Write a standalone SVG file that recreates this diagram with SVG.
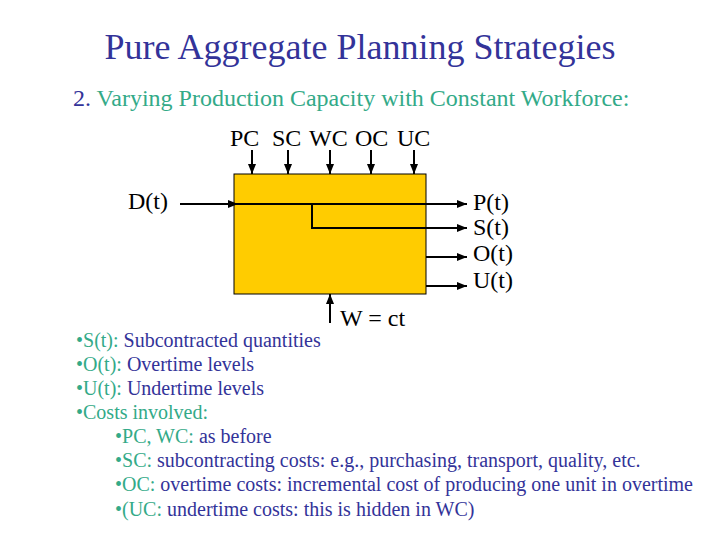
<svg xmlns="http://www.w3.org/2000/svg" width="720" height="540" viewBox="0 0 720 540">
<style>
text{font-family:"Liberation Serif","Times New Roman",serif;}
.t{font-size:36px;fill:#333399;}
.n{fill:#333399;}
.g{fill:#33AA88;}
.lbl{font-size:24px;fill:#000;}
.b{font-size:20px;}
.ln{stroke:#000;stroke-width:2;fill:none;}
</style>
<defs>
<marker id="a" viewBox="0 0 10 10" refX="10" refY="5" markerWidth="5" markerHeight="5" orient="auto">
<path d="M0,1 L10,5 L0,9 Z" fill="#000"/>
</marker>
</defs>
<rect width="720" height="540" fill="#fff"/>
<text class="t" x="360" y="59" text-anchor="middle">Pure Aggregate Planning Strategies</text>
<text x="73" y="106" style="font-size:24px"><tspan class="n">2. </tspan><tspan class="g">Varying Production Capacity with Constant Workforce:</tspan></text>

<g id="process">
<rect x="234" y="174" width="192" height="120" fill="#FFCC00" stroke="#000" stroke-width="1"/>
</g>
<g id="costs">
<text class="lbl" x="230" y="146">PC</text>
<text class="lbl" x="272" y="146">SC</text>
<text class="lbl" x="309" y="146">WC</text>
<text class="lbl" x="355" y="146">OC</text>
<text class="lbl" x="397" y="146">UC</text>
</g>
<g id="inputs">
<text class="lbl" x="128" y="209">D(t)</text>
<text class="lbl" x="340" y="326">W = ct</text>
</g>
<g id="outputs">
<text class="lbl" x="473" y="210">P(t)</text>
<text class="lbl" x="473" y="235">S(t)</text>
<text class="lbl" x="473" y="261">O(t)</text>
<text class="lbl" x="473" y="288">U(t)</text>
</g>
<g id="connectors">
<line class="ln" x1="252" y1="150" x2="252" y2="174" marker-end="url(#a)"/>
<line class="ln" x1="288" y1="150" x2="288" y2="174" marker-end="url(#a)"/>
<line class="ln" x1="330" y1="150" x2="330" y2="174" marker-end="url(#a)"/>
<line class="ln" x1="371" y1="150" x2="371" y2="174" marker-end="url(#a)"/>
<line class="ln" x1="414" y1="150" x2="414" y2="174" marker-end="url(#a)"/>
<line class="ln" x1="180" y1="204" x2="238" y2="204" marker-end="url(#a)"/>
<line class="ln" x1="236" y1="204" x2="467" y2="204" marker-end="url(#a)"/>
<polyline class="ln" points="312,204 312,228 467,228" marker-end="url(#a)"/>
<line class="ln" x1="426" y1="257" x2="467" y2="257" marker-end="url(#a)"/>
<line class="ln" x1="426" y1="286" x2="467" y2="286" marker-end="url(#a)"/>
<line class="ln" x1="330" y1="323" x2="330" y2="294" marker-end="url(#a)"/>
</g>
<g id="notes" class="b">
<text x="76" y="347"><tspan class="g">•S(t): </tspan><tspan class="n">Subcontracted quantities</tspan></text>
<text x="76" y="371"><tspan class="g">•O(t): </tspan><tspan class="n">Overtime levels</tspan></text>
<text x="76" y="395"><tspan class="g">•U(t): </tspan><tspan class="n">Undertime levels</tspan></text>
<text x="76" y="419" class="g">•Costs involved:</text>
<text x="115" y="443"><tspan class="g">•PC, WC: </tspan><tspan class="n">as before</tspan></text>
<text x="115" y="467"><tspan class="g">•SC: </tspan><tspan class="n">subcontracting costs: e.g., purchasing, transport, quality, etc.</tspan></text>
<text x="115" y="491"><tspan class="g">•OC: </tspan><tspan class="n">overtime costs: incremental cost of producing one unit in overtime</tspan></text>
<text x="115" y="516"><tspan class="g">•(UC: </tspan><tspan class="n">undertime costs: this is hidden in WC)</tspan></text>
</g>
</svg>
